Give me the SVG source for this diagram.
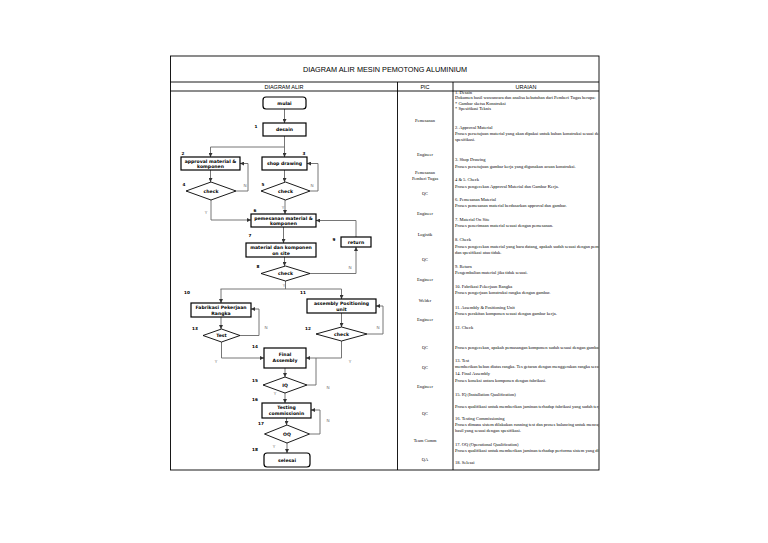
<svg xmlns="http://www.w3.org/2000/svg" width="768" height="543" viewBox="0 0 768 543">
<style>
.frame{fill:none;stroke:#000;stroke-width:0.9}
.box{fill:#fff;stroke:#000;stroke-width:1.2}
.dia{fill:#fff;stroke:#000;stroke-width:0.9}
.con{fill:none;stroke:#666;stroke-width:0.9}
.nt{font-family:"DejaVu Sans",sans-serif;font-weight:bold;font-size:4.6px;fill:#000;text-anchor:middle}
.num{font-family:"DejaVu Sans",sans-serif;font-weight:bold;font-size:4.2px;fill:#000;text-anchor:middle}
.yn{font-family:"DejaVu Sans",sans-serif;font-size:4.2px;fill:#777;text-anchor:middle}
.hd{font-family:"Liberation Sans",Arial,sans-serif;font-size:5.5px;fill:#000;text-anchor:middle}
.pic{font-family:"Liberation Serif","Times New Roman",serif;font-size:4.4px;fill:#000;text-anchor:middle}
.ur{font-family:"Liberation Serif","Times New Roman",serif;font-size:4.5px;fill:#000}
</style>
<defs>
<marker id="ah" viewBox="0 0 6 6" refX="6" refY="3" markerWidth="4" markerHeight="4" orient="auto" markerUnits="userSpaceOnUse">
<path d="M0,0 L6,3 L0,6 z" fill="#333"/>
</marker>
<clipPath id="clipU"><rect x="453" y="91" width="145.5" height="379"/></clipPath>
</defs>
<rect width="768" height="543" fill="#fff"/>

<g id="table">
<rect class="frame" x="170.5" y="56" width="428.5" height="414"/>
<line class="frame" x1="170.5" y1="82" x2="599" y2="82"/>
<line class="frame" x1="170.5" y1="91" x2="599" y2="91"/>
<line class="frame" x1="397.5" y1="82" x2="397.5" y2="470"/>
<line class="frame" x1="453" y1="82" x2="453" y2="470"/>
<text x="385" y="72" font-family="Liberation Sans,Arial,sans-serif" font-size="7.3" text-anchor="middle">DIAGRAM ALIR MESIN PEMOTONG ALUMINIUM</text>
<text class="hd" x="284" y="88.6">DIAGRAM ALIR</text>
<text class="hd" x="425" y="88.6">PIC</text>
<text class="hd" x="526" y="88.6">URAIAN</text>
</g>

<g id="connectors">
<path class="con" d="M284.5,109 V123" marker-end="url(#ah)"/>
<path class="con" d="M284.5,136 V157" marker-end="url(#ah)"/>
<path class="con" d="M284.5,147 H210.5 V157" marker-end="url(#ah)"/>
<path class="con" d="M210.5,170 V182" marker-end="url(#ah)"/>
<path class="con" d="M236,191 H248 V163.5 H240" marker-end="url(#ah)"/>
<path class="con" d="M284.5,170 V182" marker-end="url(#ah)"/>
<path class="con" d="M310,191 H318 V163.5 H307" marker-end="url(#ah)"/>
<path class="con" d="M211,200 V220 H251" marker-end="url(#ah)"/>
<path class="con" d="M285,200 V214" marker-end="url(#ah)"/>
<path class="con" d="M283.5,227 V243" marker-end="url(#ah)"/>
<path class="con" d="M284.5,257 V266" marker-end="url(#ah)"/>
<path class="con" d="M310,273.5 H356 V247" marker-end="url(#ah)"/>
<path class="con" d="M356,237 V220.5 H316" marker-end="url(#ah)"/>
<path class="con" d="M285.5,281 V289 M220.5,289 H341.5"/>
<path class="con" d="M221,289 V303" marker-end="url(#ah)"/>
<path class="con" d="M341.5,289 V299" marker-end="url(#ah)"/>
<path class="con" d="M221,317 V329" marker-end="url(#ah)"/>
<path class="con" d="M240,335.5 H259 V309 H251" marker-end="url(#ah)"/>
<path class="con" d="M341.5,313 V327" marker-end="url(#ah)"/>
<path class="con" d="M367,334 H383 V306 H376" marker-end="url(#ah)"/>
<path class="con" d="M221.5,342 V358 H264" marker-end="url(#ah)"/>
<path class="con" d="M341.5,341 V358 H306" marker-end="url(#ah)"/>
<path class="con" d="M285,368 V377" marker-end="url(#ah)"/>
<path class="con" d="M307,385 H316 V358"/>
<path class="con" d="M285,393 V403" marker-end="url(#ah)"/>
<path class="con" d="M286.5,418 V425" marker-end="url(#ah)"/>
<path class="con" d="M309.5,434 H320 V410 H311" marker-end="url(#ah)"/>
<path class="con" d="M287,443 V453" marker-end="url(#ah)"/>
<text class="yn" x="245" y="187">N</text>
<text class="yn" x="312" y="187">N</text>
<text class="yn" x="206" y="214">Y</text>
<text class="yn" x="283" y="209">Y</text>
<text class="yn" x="350" y="269">N</text>
<text class="yn" x="284" y="287">Y</text>
<text class="yn" x="266" y="329">N</text>
<text class="yn" x="378" y="329">N</text>
<text class="yn" x="216" y="363">Y</text>
<text class="yn" x="350" y="363">Y</text>
<text class="yn" x="328" y="389">N</text>
<text class="yn" x="275" y="395">Y</text>
<text class="yn" x="328" y="422">N</text>
<text class="yn" x="274" y="448">Y</text>
</g>

<g id="n-mulai"><rect class="box" x="263" y="97" width="43" height="12" rx="3"/><text class="nt" x="284.5" y="104.7">mulai</text></g>
<g id="n-desain"><rect class="box" x="263" y="123" width="43" height="13"/><text class="nt" x="284.5" y="131.2">desain</text><text class="num" x="256" y="127.5">1</text></g>
<g id="n-approval"><rect class="box" x="181" y="157" width="59" height="13"/><text class="nt" x="210.5" y="162.6">approval material &amp;</text><text class="nt" x="210.5" y="168">komponen</text><text class="num" x="183" y="154.5">2</text></g>
<g id="n-shop"><rect class="box" x="262" y="157" width="45" height="13"/><text class="nt" x="284.5" y="165.2">shop drawing</text><text class="num" x="304" y="154.5">3</text></g>
<g id="n-check4"><polygon class="dia" points="186,191 211,182 236,191 211,200"/><text class="nt" x="211" y="192.7">check</text><text class="num" x="184" y="185.5">4</text></g>
<g id="n-check5"><polygon class="dia" points="261,191 285.5,182 310,191 285.5,200"/><text class="nt" x="285.5" y="192.7">check</text><text class="num" x="263" y="185.5">5</text></g>
<g id="n-pemesanan"><rect class="box" x="251" y="214" width="65" height="13"/><text class="nt" x="283.5" y="219.6">pemesanan material &amp;</text><text class="nt" x="283.5" y="225">komponen</text><text class="num" x="255" y="211.5">6</text></g>
<g id="n-material"><rect class="box" x="246" y="243" width="70" height="14"/><text class="nt" x="281" y="249">material dan komponen</text><text class="nt" x="281" y="254.6">on site</text><text class="num" x="250" y="236.5">7</text></g>
<g id="n-return"><rect class="box" x="341" y="237" width="30" height="10"/><text class="nt" x="356" y="243.6">return</text><text class="num" x="334" y="240.5">9</text></g>
<g id="n-check8"><polygon class="dia" points="261,273.5 285.5,266 310,273.5 285.5,281"/><text class="nt" x="285.5" y="275.2">check</text><text class="num" x="258" y="267.5">8</text></g>
<g id="n-fabrikasi"><rect class="box" x="191" y="303" width="60" height="14"/><text class="nt" x="221" y="309">Fabrikasi Pekerjaan</text><text class="nt" x="221" y="314.6">Rangka</text><text class="num" x="187" y="293.5">10</text></g>
<g id="n-assembly"><rect class="box" x="307" y="299" width="69" height="14"/><text class="nt" x="341.5" y="305">assembly Positioning</text><text class="nt" x="341.5" y="310.6">unit</text><text class="num" x="303" y="293.5">11</text></g>
<g id="n-test"><polygon class="dia" points="203,335.5 221.5,329 240,335.5 221.5,342"/><text class="nt" x="221.5" y="337.2">Test</text><text class="num" x="195" y="329.5">13</text></g>
<g id="n-check12"><polygon class="dia" points="316,334 341.5,327 367,334 341.5,341"/><text class="nt" x="341.5" y="335.7">check</text><text class="num" x="308" y="329.5">12</text></g>
<g id="n-final"><rect class="box" x="264" y="348" width="42" height="20"/><text class="nt" x="285" y="356">Final</text><text class="nt" x="285" y="362">Assembly</text><text class="num" x="255" y="347.5">14</text></g>
<g id="n-iq"><polygon class="dia" points="263,385 285,377 307,385 285,393"/><text class="nt" x="285" y="386.7">IQ</text><text class="num" x="255" y="381.5">15</text></g>
<g id="n-testing"><rect class="box" x="262" y="403" width="49" height="15"/><text class="nt" x="286.5" y="409.2">Testing</text><text class="nt" x="286.5" y="414.8">commissionin</text><text class="num" x="255" y="400.5">16</text></g>
<g id="n-oq"><polygon class="dia" points="264.5,434 287,425 309.5,434 287,443"/><text class="nt" x="287" y="435.7">OQ</text><text class="num" x="261" y="424.5">17</text></g>
<g id="n-selesai"><rect class="box" x="264" y="453" width="46" height="14" rx="3"/><text class="nt" x="287" y="461.7">selesai</text><text class="num" x="255" y="450.5">18</text></g>

<g id="pic">
<text class="pic" x="425" y="121.5">Pemesanan</text>
<text class="pic" x="425" y="156">Engineer</text>
<text class="pic" x="425" y="173.5">Pemesanan</text>
<text class="pic" x="425" y="179.5">Pemberi Tugas</text>
<text class="pic" x="425" y="194.5">QC</text>
<text class="pic" x="425" y="215">Engineer</text>
<text class="pic" x="425" y="236">Logistik</text>
<text class="pic" x="425" y="261">QC</text>
<text class="pic" x="425" y="280.5">Engineer</text>
<text class="pic" x="425" y="301.5">Welder</text>
<text class="pic" x="425" y="320.5">Engineer</text>
<text class="pic" x="425" y="348.5">QC</text>
<text class="pic" x="425" y="368.5">QC</text>
<text class="pic" x="425" y="388">Engineer</text>
<text class="pic" x="425" y="414.5">QC</text>
<text class="pic" x="425" y="441.5">Team Comm</text>
<text class="pic" x="425" y="461">QA</text>
</g>

<g id="uraian" clip-path="url(#clipU)">
<text class="ur" x="455" y="93.5">1. Desain</text>
<text class="ur" x="455" y="99">Dokumen hasil wawancara dan analisa kebutuhan dari Pemberi Tugas berupa:</text>
<text class="ur" x="455" y="104.5">* Gambar sketsa Konstruksi</text>
<text class="ur" x="455" y="110">* Spesifikasi Teknis</text>
<text class="ur" x="455" y="128.5">2. Approval Material</text>
<text class="ur" x="455" y="134.5">Proses persetujuan material yang akan dipakai untuk bahan konstruksi sesuai dengan</text>
<text class="ur" x="455" y="140.5">spesifikasi.</text>
<text class="ur" x="455" y="160.5">3. Shop Drawing</text>
<text class="ur" x="455" y="167.5">Proses persetujuan gambar kerja yang digunakan acuan konstruksi.</text>
<text class="ur" x="455" y="180.5">4 &amp; 5. Check</text>
<text class="ur" x="455" y="187.5">Proses pengecekan Approval Material dan Gambar Kerja.</text>
<text class="ur" x="455" y="200.5">6. Pemesanan Material</text>
<text class="ur" x="455" y="206.5">Proses pemesanan material berdasarkan approval dan gambar.</text>
<text class="ur" x="455" y="220.5">7. Material On Site</text>
<text class="ur" x="455" y="226.5">Proses penerimaan material sesuai dengan pemesanan.</text>
<text class="ur" x="455" y="240.5">8. Check</text>
<text class="ur" x="455" y="247.5">Proses pengecekan material yang baru datang, apakah sudah sesuai dengan pemesanan</text>
<text class="ur" x="455" y="253.5">dan spesifikasi atau tidak.</text>
<text class="ur" x="455" y="267.5">9. Return</text>
<text class="ur" x="455" y="273.5">Pengembalian material jika tidak sesuai.</text>
<text class="ur" x="455" y="287.5">10. Fabrikasi Pekerjaan Rangka</text>
<text class="ur" x="455" y="293.5">Proses pengerjaan konstruksi rangka dengan gambar.</text>
<text class="ur" x="455" y="308.5">11. Assembly &amp; Positioning Unit</text>
<text class="ur" x="455" y="314.5">Proses perakitan komponen sesuai dengan gambar kerja.</text>
<text class="ur" x="455" y="328.5">12. Check</text>
<text class="ur" x="455" y="348.5">Proses pengecekan, apakah pemasangan komponen sudah sesuai dengan gambar kerja.</text>
<text class="ur" x="455" y="361.5">13. Test</text>
<text class="ur" x="455" y="367.5">memberikan beban diatas rangka. Tes getaran dengan menggerakan rangka secara</text>
<text class="ur" x="455" y="374.5">14. Final Assembly</text>
<text class="ur" x="455" y="381.5">Proses koneksi antara komponen dengan fabrikasi.</text>
<text class="ur" x="455" y="395.5">15. IQ (Installation Qualification)</text>
<text class="ur" x="455" y="407.5">Proses qualifikasi untuk memberikan jaminan terhadap fabrikasi yang sudah terpasang.</text>
<text class="ur" x="455" y="419.5">16. Testing Commissioning</text>
<text class="ur" x="455" y="425.5">Proses dimana sistem dilakukan running test dan proses balancing untuk mencapai</text>
<text class="ur" x="455" y="431.5">hasil yang sesuai dengan spesifikasi.</text>
<text class="ur" x="455" y="445.5">17. OQ (Operational Qualification)</text>
<text class="ur" x="455" y="451.5">Proses qualifikasi untuk memberikan jaminan terhadap performa sistem yang diharapkan.</text>
<text class="ur" x="455" y="464">18. Selesai</text>
</g>
</svg>
